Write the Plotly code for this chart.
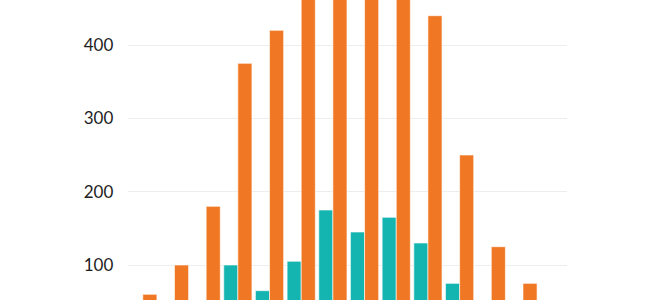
import plotly.graph_objects as go

categories = ["1", "2", "3", "4", "5", "6", "7", "8", "9", "10", "11", "12", "13", "14"]
teal_values = [10, 20, 40, 100, 65, 105, 175, 145, 165, 130, 75, 30, 15, 5]
orange_values = [60, 100, 180, 375, 420, 470, 490, 500, 480, 440, 250, 125, 75, 40]
y_ticks = [100, 200, 300, 400]

TEAL = "#14B5B0"
ORANGE = "#F07824"

fig = go.Figure()
fig.add_trace(go.Bar(x=categories, y=teal_values, marker=dict(color=TEAL, line=dict(width=0.6, color="white")), name="A"))
fig.add_trace(go.Bar(x=categories, y=orange_values, marker=dict(color=ORANGE, line=dict(width=0.6, color="white")), name="B"))

fig.update_layout(
    width=650, height=300,
    margin=dict(l=0, r=0, t=0, b=0),
    paper_bgcolor="white", plot_bgcolor="white",
    barmode="group", bargap=0.11, bargroupgap=0.0,
    showlegend=False,
    font=dict(family="Lato, 'Open Sans', sans-serif", color="#1e1e1e", size=17),
)
fig.update_xaxes(
    domain=[128.3 / 650, 567 / 650],
    range=[-0.458, 13.39],
    showticklabels=False, showgrid=False, zeroline=False, showline=False, ticks="",
)
fig.update_yaxes(
    range=[52.3, 461.4],
    tickvals=y_ticks, ticktext=[str(v) for v in y_ticks],
    showgrid=True, gridcolor="#EDEDED", gridwidth=1,
    zeroline=False, showline=False, ticks="",
    ticklabelstandoff=14,
    tickfont=dict(size=17, color="#1e1e1e"),
)

fig.write_html("out.html")
